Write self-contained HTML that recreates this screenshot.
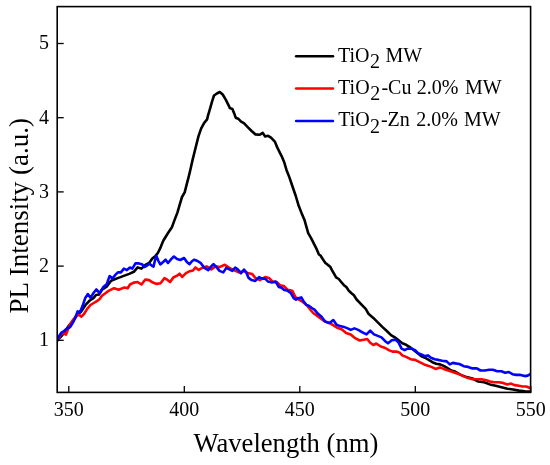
<!DOCTYPE html>
<html><head><meta charset="utf-8"><style>
html,body{margin:0;padding:0;background:#fff;}
svg{display:block;will-change:transform;}
text{font-family:"Liberation Serif",serif;fill:#000;}
.tl{font-size:20px;}
.leg{font-size:20px;}
.sub{font-size:19px;}
.ax{font-size:26.6px;}
</style></head><body>
<svg width="550" height="465" viewBox="0 0 550 465">
<defs><clipPath id="c"><rect x="57.2" y="6.6" width="473.40000000000003" height="385.79999999999995"/></clipPath></defs>
<g clip-path="url(#c)" fill="none" stroke-width="2.6" stroke-linejoin="round" stroke-linecap="round">
<path d="M57.2,340.6 L62.5,334.8 L68.5,326.2 L73.5,320.3 L77.5,314.5 L80.8,312.0 L83.5,308.0 L86.0,304.3 L89.8,300.5 L93.7,297.9 L96.0,295.0 L99.0,294.5 L102.0,289.7 L106.6,286.7 L111.1,280.7 L117.1,278.4 L123.1,276.1 L129.2,273.9 L133.8,271.8 L137.6,267.4 L141.5,268.6 L145.3,264.8 L149.1,262.9 L152.3,258.5 L155.5,255.9 L158.0,252.7 L160.5,247.6 L162.5,242.5 L163.7,240.0 L168.2,232.7 L171.9,227.2 L174.6,219.9 L177.4,212.6 L179.8,204.3 L182.0,197.0 L184.7,192.4 L186.5,185.1 L188.4,177.8 L190.2,170.5 L192.7,159.4 L195.6,147.7 L198.5,136.1 L201.2,128.4 L204.2,122.8 L207.1,119.4 L208.2,114.8 L210.2,108.1 L212.1,101.3 L214.0,95.5 L216.9,93.5 L219.8,92.0 L222.7,94.5 L225.6,99.4 L228.0,104.2 L229.9,108.1 L232.4,109.0 L234.4,113.9 L235.7,117.7 L238.2,118.7 L241.1,121.6 L243.9,123.2 L247.7,127.1 L251.6,131.0 L255.5,134.4 L259.4,134.8 L262.8,132.9 L265.2,136.4 L268.1,135.8 L271.0,137.7 L274.8,141.6 L277.7,148.4 L281.6,156.1 L284.1,161.9 L286.4,169.7 L289.4,177.4 L292.5,186.5 L295.6,195.5 L298.5,205.2 L301.5,212.9 L304.4,219.7 L306.3,226.4 L308.2,233.2 L311.1,238.1 L314.0,243.9 L316.9,249.7 L318.9,254.5 L320.5,255.5 L322.7,259.0 L325.4,262.9 L328.1,265.1 L330.2,266.7 L331.8,269.9 L334.0,273.7 L336.1,277.4 L338.8,279.0 L341.0,281.7 L343.7,284.9 L346.3,287.1 L348.5,290.3 L351.2,293.0 L353.9,295.2 L356.6,299.5 L362.0,305.1 L365.7,308.8 L368.7,314.1 L373.3,317.9 L377.8,322.4 L382.3,326.9 L386.8,331.0 L391.0,335.1 L394.8,337.3 L398.6,340.3 L402.3,343.3 L406.1,344.8 L409.8,347.1 L413.6,350.1 L417.4,353.1 L421.1,356.1 L424.9,357.7 L428.7,359.9 L432.4,362.2 L436.2,363.7 L440.0,364.4 L443.7,365.9 L447.5,368.2 L451.3,370.5 L455.0,371.5 L460.8,374.9 L466.6,377.1 L472.5,378.5 L478.3,381.5 L484.1,382.2 L489.9,384.4 L495.7,385.8 L501.5,387.3 L507.4,388.7 L513.2,389.5 L519.0,390.6 L524.8,391.2 L530.0,391.6" stroke="#000"/>
<path d="M57.6,340.4 L60.8,334.6 L63.4,332.7 L66.0,334.6 L67.9,329.5 L70.5,323.7 L73.1,319.8 L76.3,315.9 L78.9,314.7 L81.4,316.6 L84.0,314.0 L87.2,308.9 L90.5,305.0 L93.7,303.0 L96.9,301.1 L99.5,299.2 L102.0,295.7 L108.1,291.2 L114.1,288.2 L118.6,289.7 L124.6,287.4 L127.7,288.2 L130.0,284.5 L133.8,282.6 L137.6,282.0 L141.5,284.5 L145.3,279.5 L149.1,280.1 L152.9,282.6 L156.7,283.9 L160.5,283.3 L164.4,278.2 L166.9,279.5 L170.1,282.0 L173.3,277.5 L177.1,275.6 L179.6,273.7 L182.2,276.9 L186.0,273.1 L189.8,271.2 L193.0,270.5 L195.5,267.4 L198.7,269.9 L202.2,267.9 L206.7,266.4 L211.2,269.4 L215.7,266.4 L219.5,267.1 L224.8,264.8 L229.3,267.9 L233.8,270.1 L239.3,272.5 L244.0,271.1 L248.6,273.3 L252.3,274.1 L255.3,277.9 L259.8,280.1 L265.1,277.1 L268.9,277.9 L272.7,281.6 L277.2,282.4 L280.2,285.4 L284.0,286.1 L287.7,289.9 L292.2,290.7 L295.2,296.7 L299.0,299.7 L302.8,302.0 L307.3,305.7 L310.2,309.5 L313.2,313.0 L319.0,317.1 L325.1,321.6 L331.1,323.9 L337.1,327.7 L341.6,329.2 L346.1,332.9 L350.7,334.4 L355.2,338.2 L359.7,340.5 L363.5,339.7 L367.2,339.0 L370.2,342.7 L373.3,345.0 L376.3,343.5 L380.8,346.5 L385.3,348.0 L388.8,350.1 L392.5,351.6 L396.3,351.6 L399.3,352.4 L402.3,355.4 L406.1,356.9 L410.6,359.2 L415.1,359.9 L419.6,362.2 L424.2,364.4 L428.7,365.9 L432.4,367.4 L435.5,368.9 L440.0,367.4 L443.7,368.9 L448.3,370.5 L452.8,372.0 L455.5,373.0 L459.4,374.2 L463.7,376.4 L468.1,378.1 L472.5,379.3 L476.8,379.3 L481.2,379.3 L485.5,380.0 L489.9,381.5 L494.3,382.2 L498.6,382.2 L503.0,382.9 L507.4,384.4 L511.0,383.6 L514.6,385.1 L519.0,385.8 L522.6,386.5 L526.3,386.5 L530.0,388.0" stroke="#f00"/>
<path d="M56.8,341.2 L59.3,335.8 L61.5,332.6 L63.6,331.4 L65.8,329.4 L67.9,328.3 L70.1,327.2 L71.7,324.5 L73.3,321.8 L75.0,318.5 L77.6,311.4 L80.1,312.1 L82.7,305.6 L85.3,297.9 L87.9,294.0 L90.5,297.9 L93.7,292.7 L96.3,289.5 L99.6,293.0 L103.6,286.7 L106.6,284.4 L109.6,276.1 L112.6,278.4 L114.8,275.4 L117.9,272.4 L120.9,272.4 L123.9,268.6 L126.9,270.1 L129.9,267.5 L132.3,268.6 L135.5,263.4 L138.9,263.4 L142.1,264.2 L144.2,267.0 L146.8,265.8 L149.5,263.8 L152.0,265.8 L153.5,266.7 L155.2,259.5 L156.5,256.2 L158.2,260.5 L160.3,264.4 L163.1,262.0 L165.6,259.7 L168.0,263.0 L170.7,259.7 L173.9,256.5 L177.1,259.1 L180.3,260.0 L184.1,258.0 L186.9,262.0 L189.5,264.2 L192.2,261.0 L194.3,259.7 L197.5,261.0 L200.5,262.8 L204.4,267.9 L208.2,270.1 L211.2,266.4 L213.5,264.1 L216.5,267.1 L219.5,270.9 L223.3,272.4 L226.3,267.9 L229.3,269.4 L232.3,270.9 L235.2,267.6 L238.0,269.6 L241.0,273.3 L244.0,269.6 L246.3,272.6 L248.6,277.9 L251.6,280.1 L255.3,280.9 L259.1,277.1 L262.1,278.6 L265.1,278.6 L268.1,281.6 L271.9,282.4 L275.7,281.6 L278.7,286.9 L281.7,287.7 L284.0,289.9 L287.0,290.4 L290.7,292.9 L293.7,298.2 L296.0,299.7 L298.3,298.2 L301.3,297.4 L303.5,301.2 L306.5,305.0 L308.8,305.7 L311.8,308.0 L314.5,309.6 L317.5,313.3 L321.3,316.4 L325.1,321.6 L329.6,323.1 L333.3,320.1 L336.4,324.6 L340.1,326.1 L343.9,326.9 L347.7,328.4 L350.7,329.9 L354.4,328.4 L358.2,329.9 L362.0,332.2 L366.5,334.4 L370.2,330.7 L374.0,334.4 L377.8,335.9 L381.5,337.4 L385.2,341.2 L388.0,343.3 L391.8,340.3 L395.5,339.6 L398.6,342.6 L401.6,348.6 L404.6,350.1 L407.6,348.6 L411.4,348.6 L415.1,350.1 L418.1,353.1 L421.9,354.6 L424.9,356.1 L427.9,355.4 L430.9,357.7 L434.7,359.2 L438.5,359.9 L442.2,360.7 L446.7,361.4 L449.8,364.4 L452.8,362.9 L455.5,363.4 L459.4,364.0 L463.7,366.2 L468.1,366.9 L472.5,368.4 L476.8,368.4 L480.5,370.5 L484.8,370.5 L489.2,369.8 L492.8,369.8 L497.2,371.3 L501.5,371.3 L505.2,372.7 L508.8,372.0 L512.5,374.2 L516.1,374.9 L520.5,374.9 L524.8,376.1 L527.7,375.6 L530.3,374.2" stroke="#00f"/>
</g>
<g stroke="#000" stroke-width="1.3"><line x1="68.8" y1="392.4" x2="68.8" y2="385.9"/><line x1="184.3" y1="392.4" x2="184.3" y2="385.9"/><line x1="299.8" y1="392.4" x2="299.8" y2="385.9"/><line x1="415.3" y1="392.4" x2="415.3" y2="385.9"/><line x1="530.8" y1="392.4" x2="530.8" y2="385.9"/><line x1="57.2" y1="340.3" x2="63.7" y2="340.3"/><line x1="57.2" y1="266.1" x2="63.7" y2="266.1"/><line x1="57.2" y1="191.9" x2="63.7" y2="191.9"/><line x1="57.2" y1="117.7" x2="63.7" y2="117.7"/><line x1="57.2" y1="43.5" x2="63.7" y2="43.5"/></g>
<rect x="57.2" y="6.6" width="473.4" height="385.8" fill="none" stroke="#000" stroke-width="1.6"/>
<g class="tl"><text x="68.8" y="415.5" text-anchor="middle">350</text><text x="184.3" y="415.5" text-anchor="middle">400</text><text x="299.8" y="415.5" text-anchor="middle">450</text><text x="415.3" y="415.5" text-anchor="middle">500</text><text x="530.8" y="415.5" text-anchor="middle">550</text><text x="49" y="346.2" text-anchor="end">1</text><text x="49" y="272.0" text-anchor="end">2</text><text x="49" y="197.8" text-anchor="end">3</text><text x="49" y="123.6" text-anchor="end">4</text><text x="49" y="49.4" text-anchor="end">5</text></g>
<text class="ax" x="285.9" y="451.5" text-anchor="middle">Wavelength (nm)</text>
<text class="ax" style="font-size:27px" transform="translate(27.9,215.7) rotate(-90)" text-anchor="middle">PL Intensity (a.u.)</text>
<line x1="296.1" y1="56.25" x2="333.0" y2="56.25" stroke="#000" stroke-width="2.5" stroke-linecap="round"/><text x="337.9" y="61.5" class="leg">TiO</text><text x="370.1" y="67.8" class="leg">2</text><text x="385.4" y="61.5" class="leg">MW</text><line x1="296.1" y1="88.6" x2="333.0" y2="88.6" stroke="#f00" stroke-width="2.5" stroke-linecap="round"/><text x="338.1" y="93.9" class="leg">TiO</text><text x="370.3" y="100.2" class="leg">2</text><text x="381.4" y="93.9" class="leg">-Cu</text><text x="416.8" y="93.9" class="leg">2.0%</text><text x="465.0" y="93.9" class="leg">MW</text><line x1="296.1" y1="121.0" x2="333.0" y2="121.0" stroke="#00f" stroke-width="2.5" stroke-linecap="round"/><text x="338.3" y="126.2" class="leg">TiO</text><text x="370.0" y="132.5" class="leg">2</text><text x="380.9" y="126.2" class="leg">-Zn</text><text x="416.2" y="126.2" class="leg">2.0%</text><text x="463.9" y="126.2" class="leg">MW</text>
</svg>
</body></html>
